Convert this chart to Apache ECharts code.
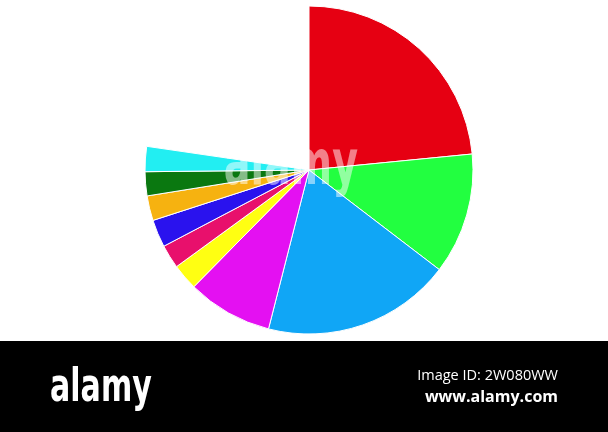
<!DOCTYPE html>
<html><head><meta charset="utf-8">
<script src="https://cdn.jsdelivr.net/npm/echarts@6/dist/echarts.min.js"></script>
<style>html,body{margin:0;padding:0;background:#fff}#c{width:608px;height:432px}</style>
</head><body><div id="c"></div>
<script>
const categories = ['Red','Green','Sky','Magenta','Yellow','Crimson','Blue','Orange','Dark green','Cyan'];
const values = [84.4, 43.0, 66.9, 30.3, 9.3, 8.4, 9.8, 8.8, 8.5, 8.9];
const colors = ['#e60012','#22ff40','#10a6f6','#e410f2','#ffff12','#e8106c','#2a12ee','#f6b210','#0a7810','#22eef2'];
const drawnSweep = 278.3;

const chart = echarts.init(document.getElementById('c'), null, {renderer:'canvas'});
chart.setOption({
  animation:false,
  backgroundColor:'#ffffff',
  series:[{
    type:'pie',
    center:[309,170],
    radius:[0,164],
    startAngle:90,
    endAngle:90-drawnSweep,
    clockwise:true,
    label:{show:false},
    labelLine:{show:false},
    itemStyle:{borderColor:'#ffffff',borderWidth:1},
    emphasis:{disabled:true},
    data:categories.map((n,i)=>({name:n,value:values[i],itemStyle:{color:colors[i]}}))
  }],
  graphic:[
    {type:'text',x:358,y:137,scaleX:0.64,originX:0,z:10,style:{text:'alamy',x:0,y:0,align:'right',verticalAlign:'top',fill:'rgba(255,255,255,0.5)',font:'bold 62px "DejaVu Sans",sans-serif'}},
    {type:'rect',left:0,top:341,z:20,shape:{width:608,height:91},style:{fill:'#000'}},
    {type:'text',x:50,y:365,scaleX:0.64,z:21,style:{text:'alamy',x:0,y:0,align:'left',verticalAlign:'top',fill:'#fff',font:'bold 47px "DejaVu Sans",sans-serif'}},
    {type:'text',right:50,top:368,z:21,style:{text:'Image ID: 2W080WW',fill:'#fff',font:'14.5px "Open Sans","Noto Sans",sans-serif'}},
    {type:'text',right:50,top:389,z:21,style:{text:'www.alamy.com',fill:'#fff',font:'bold 16px "Open Sans","Noto Sans",sans-serif'}}
  ]
});
</script></body></html>
